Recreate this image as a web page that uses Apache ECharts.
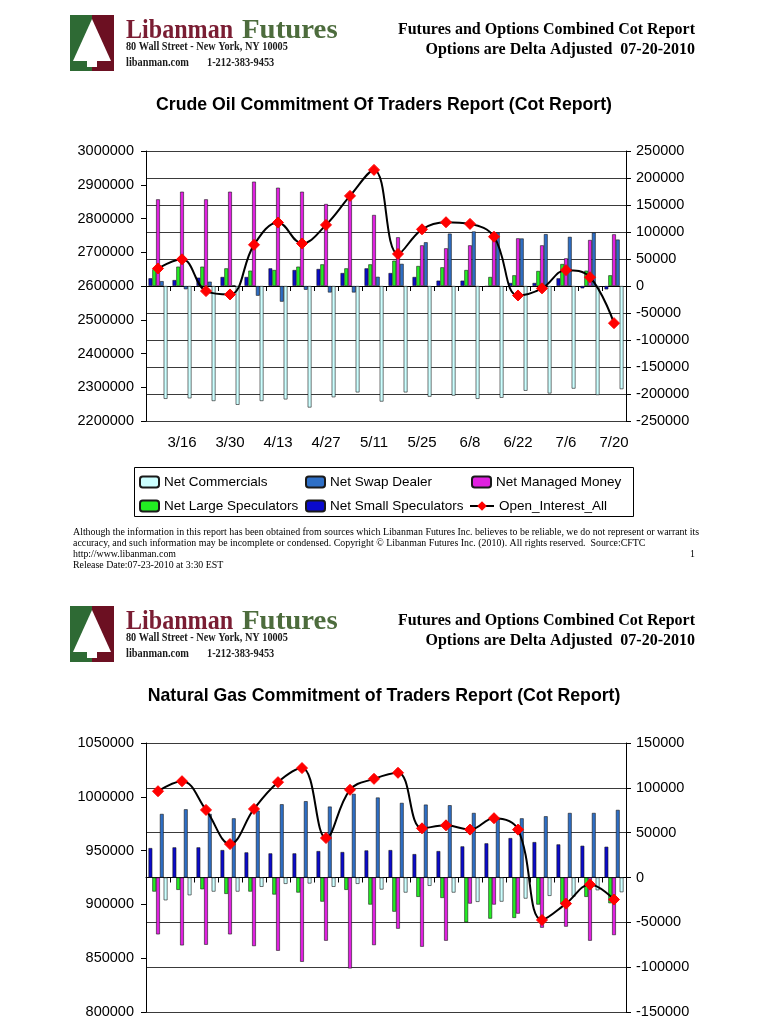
<!DOCTYPE html>
<html>
<head>
<meta charset="utf-8">
<script src="https://cdn.jsdelivr.net/npm/echarts@6/dist/echarts.min.js"></script>
<style>
html,body{margin:0;padding:0;background:#fff;}
#c{width:768px;height:1024px;}
</style>
</head>
<body>
<div id="c"></div>
<script>
// ---------- DATA ----------
const dates = ['3/9','3/16','3/23','3/30','4/6','4/13','4/20','4/27','5/4','5/11','5/18','5/25','6/1','6/8','6/15','6/22','6/29','7/6','7/13','7/20'];

// Crude Oil
const crudeCommercials = [-209000,-208000,-213000,-220000,-213000,-210000,-225000,-206000,-197000,-214000,-197000,-205000,-203000,-209000,-207000,-194000,-199000,-190000,-202000,-191000];
const crudeSwap = [9000,-6000,8000,1500,-18000,-29000,-7000,-12000,-12000,17000,41000,81000,97000,101000,99000,88000,96000,91000,99000,86000];
const crudeManaged = [160500,174600,160500,174600,193200,182000,174600,151800,159000,131500,90200,75300,69800,75300,94400,88300,75300,51200,85200,95700];
const crudeLarge = [31000,35800,35800,32700,28400,29600,35800,40100,32700,40100,46900,37000,34600,29600,16700,19800,27800,40700,28400,19800];
const crudeSmall = [14300,11000,15400,16700,16700,32700,29600,31500,24000,32700,24000,16700,9900,9900,-1200,5600,5600,14200,-4300,-6200];
const crudeOI = [2652000,2679000,2585000,2575000,2722000,2788000,2726000,2781000,2867000,2944000,2695000,2768000,2789000,2784000,2746000,2572000,2593000,2647000,2626000,2490000];

// Natural Gas
const gasCommercials = [-25400,-19800,-15700,-15700,-10400,-7100,-6700,-10400,-7100,-13400,-16800,-9300,-16800,-27200,-26900,-23500,-20500,-21300,-14200,-16400];
const gasSwap = [70900,76100,70900,66000,74600,81700,85100,79100,93300,89200,83200,81300,80600,72000,65300,66000,68300,72000,72000,75400];
const gasManaged = [-63400,-75700,-75000,-63400,-76500,-81700,-94000,-70500,-101400,-75400,-57100,-77200,-70500,-29100,-30200,-40300,-56000,-54800,-70500,-64200];
const gasLarge = [-15700,-13800,-13100,-18300,-15700,-19000,-16800,-26900,-13800,-30200,-38100,-21600,-22800,-50000,-45900,-45100,-30200,-29800,-21600,-28700];
const gasSmall = [32800,33600,33600,30600,28000,26900,26900,29500,28400,30200,30600,26100,29500,34700,38100,44000,39500,36900,35400,34300];
const gasOI = [1005200,1014500,987800,956100,988700,1013600,1026700,961700,1006500,1016700,1022300,970700,973500,969500,980100,969500,885500,900700,918400,904500];

const seriesNames = ['Net Commercials','Net Swap Dealer','Net Managed Money','Net Large Speculators','Net Small Speculators','Open_Interest_All'];

// ---------- STYLE ----------
const SANS = "'Liberation Sans',Arial,sans-serif";
const SERIF = "'Liberation Serif','Times New Roman',serif";
const colors = {
  'Net Commercials':'#CCFFFF',
  'Net Swap Dealer':'#2E6FC6',
  'Net Managed Money':'#E020E0',
  'Net Large Speculators':'#22EE22',
  'Net Small Speculators':'#0A0ACC'
};

const chart = echarts.init(document.getElementById('c'), null, {renderer:'canvas'});

function plain(v){ return String(v); }
function grid(top, height){ return {left:146, top:top, width:480, height:height, containLabel:false}; }

function xAxis(gi, showLabels){
  return {
    type:'category', gridIndex:gi, data:dates, boundaryGap:true,
    axisLine:{lineStyle:{color:'#000', width:1}},
    axisTick:{show:true, interval:0, length:5, lineStyle:{color:'#000'}},
    axisLabel:{show:showLabels, interval:function(i){return i%2===1;}, color:'#000', fontSize:15, fontFamily:SANS, margin:14},
    splitLine:{show:false}
  };
}
function leftAxis(gi, min, max, step){
  return {
    type:'value', gridIndex:gi, position:'left', min:min, max:max, interval:step,
    axisLine:{show:true, lineStyle:{color:'#000'}},
    axisTick:{show:true, length:5, lineStyle:{color:'#000'}},
    axisLabel:{color:'#000', fontSize:14.5, fontFamily:SANS, margin:12, formatter:plain},
    splitLine:{show:false}
  };
}
function rightAxis(gi, min, max, step){
  return {
    type:'value', gridIndex:gi, position:'right', min:min, max:max, interval:step,
    axisLine:{show:true, lineStyle:{color:'#000'}},
    axisTick:{show:true, length:5, lineStyle:{color:'#000'}},
    axisLabel:{color:'#000', fontSize:14.5, fontFamily:SANS, margin:10, formatter:plain},
    splitLine:{show:true, lineStyle:{color:'#3a3a3a', width:1}}
  };
}

function barSeries(name, data, xi, yi){
  return {
    name:name, type:'bar', xAxisIndex:xi, yAxisIndex:yi, data:data,
    barGap:'0%', barCategoryGap:'21%',
    itemStyle:{color:colors[name], borderColor:'#1a1a1a', borderWidth:0.6},
    emphasis:{disabled:true}, z:2
  };
}
function lineSeries(data, xi, yi){
  return {
    name:'Open_Interest_All', type:'line', xAxisIndex:xi, yAxisIndex:yi, data:data,
    smooth:0.4, symbol:'diamond', symbolSize:11,
    lineStyle:{color:'#000', width:2},
    itemStyle:{color:'#FF0000', borderColor:'#FF0000'},
    emphasis:{disabled:true}, z:5
  };
}

function chartSeries(idx, small, large, managed, swap, comm, oi){
  const xi = idx, yl = idx*2, yr = idx*2+1;
  return [
    barSeries('Net Small Speculators', small, xi, yr),
    barSeries('Net Large Speculators', large, xi, yr),
    barSeries('Net Managed Money', managed, xi, yr),
    barSeries('Net Swap Dealer', swap, xi, yr),
    barSeries('Net Commercials', comm, xi, yr),
    lineSeries(oi, xi, yl)
  ];
}

function txt(x, y, text, font, fill, align, sx){
  return {type:'text', x:x, y:y, scaleX:sx||1, style:{text:text, fill:fill||'#000', font:font, align:align||'left', verticalAlign:'middle'}};
}

// Logo + header graphics
function header(dy){
  return [
    {type:'rect', shape:{x:70, y:15+dy, width:22, height:56}, style:{fill:'#2E6A34'}},
    {type:'rect', shape:{x:92, y:15+dy, width:22, height:56}, style:{fill:'#6C1022'}},
    {type:'polygon', shape:{points:[[92,19+dy],[73,61+dy],[111,61+dy]]}, style:{fill:'#fff'}},
    {type:'rect', shape:{x:87, y:61+dy, width:10, height:6}, style:{fill:'#fff'}},
    txt(126, 31+dy, 'Libanman', "bold 28px "+SERIF, '#7A1D33', 'left', 0.86),
    txt(242, 31+dy, 'Futures', "bold 28px "+SERIF, '#4D6C3D', 'left', 1.03),
    txt(126, 47+dy, '80 Wall Street - New York, NY 10005', "bold 11.5px "+SERIF, '#1a1a1a', 'left', 0.89),
    txt(126, 63+dy, 'libanman.com', "bold 11.5px "+SERIF, '#1a1a1a', 'left', 0.9),
    txt(207, 63+dy, '1-212-383-9453', "bold 11.5px "+SERIF, '#1a1a1a', 'left', 0.9),
    txt(695, 30+dy, 'Futures and Options Combined Cot Report', "bold 16px "+SERIF, '#000', 'right'),
    txt(695, 50+dy, 'Options are Delta Adjusted  07-20-2010', "bold 16px "+SERIF, '#000', 'right')
  ];
}

const DF = "9.9px "+SERIF;
const graphics = [].concat(
  header(0),
  header(591),
  [
    {type:'rect', shape:{x:134.5, y:467.5, width:499, height:49}, style:{fill:'none', stroke:'#000', lineWidth:1}, z:-1},
    txt(73, 532, 'Although the information in this report has been obtained from sources which Libanman Futures Inc. believes to be reliable, we do not represent or warrant its', DF),
    txt(73, 543, 'accuracy, and such information may be incomplete or condensed. Copyright \u00A9 Libanman Futures Inc. (2010). All rights reserved.  Source:CFTC', DF),
    txt(73, 554, 'http://www.libanman.com', DF),
    txt(695, 554, '1', DF, '#000', 'right'),
    txt(73, 565, 'Release Date:07-23-2010 at 3:30 EST', DF)
  ]
);

// legends placed in a 3-column grid
const legendPos = {
  'Net Commercials':[139,475], 'Net Swap Dealer':[305,475], 'Net Managed Money':[471,475],
  'Net Large Speculators':[139,499], 'Net Small Speculators':[305,499], 'Open_Interest_All':[469,499]
};
const legends = seriesNames.map(function(n){
  const isLine = n==='Open_Interest_All';
  return {
    data:[n], left:legendPos[n][0], top:legendPos[n][1], orient:'horizontal',
    itemWidth: isLine?24:19, itemHeight: isLine?12:11, itemGap:0, padding:0,
    textStyle:{color:'#000', fontSize:13.5, fontFamily:SANS},
    selectedMode:false
  };
});

const option = {
  animation:false,
  backgroundColor:'#fff',
  title:[
    {text:'Crude Oil Commitment Of Traders Report (Cot Report)', left:'center', top:91,
     textStyle:{fontSize:17.7, fontWeight:'bold', fontFamily:SANS, color:'#000'}},
    {text:'Natural Gas Commitment of Traders Report (Cot Report)', left:'center', top:682,
     textStyle:{fontSize:17.7, fontWeight:'bold', fontFamily:SANS, color:'#000'}}
  ],
  legend:legends,
  grid:[grid(151,270), grid(743,269)],
  xAxis:[xAxis(0,true), xAxis(1,false)],
  yAxis:[
    leftAxis(0,2200000,3000000,100000), rightAxis(0,-250000,250000,50000),
    leftAxis(1,800000,1050000,50000), rightAxis(1,-150000,150000,50000)
  ],
  series:[].concat(
    chartSeries(0, crudeSmall, crudeLarge, crudeManaged, crudeSwap, crudeCommercials, crudeOI),
    chartSeries(1, gasSmall, gasLarge, gasManaged, gasSwap, gasCommercials, gasOI)
  ),
  graphic:graphics
};
chart.setOption(option);
</script>
</body>
</html>
